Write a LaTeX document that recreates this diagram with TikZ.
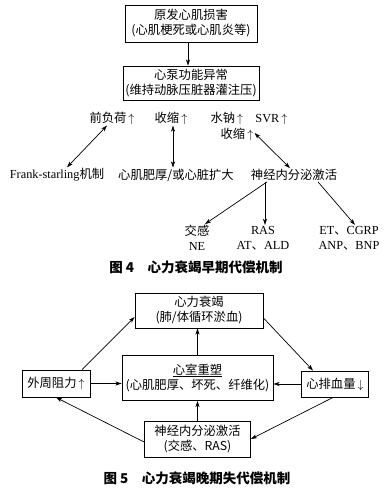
\documentclass[tikz,border=0pt]{standalone}
\usepackage{fontspec}
\setmainfont{Noto Sans CJK SC}
\newfontfamily\lat{Liberation Serif}
\usetikzlibrary{positioning,arrows.meta,calc}

\begin{document}
\begin{tikzpicture}[
x=1pt, y=-1pt,
box/.style={draw, line width=0.9pt, align=center, inner sep=1pt, font=\fontsize{12.3}{15}\selectfont},
lbl/.style={align=center, inner sep=1pt, font=\fontsize{12.3}{15}\selectfont},
figcap/.style={font=\fontsize{13.5}{15}\selectfont\bfseries},
arr/.style={-{Stealth[length=6pt,width=4pt,inset=1.5pt]}, line width=0.7pt},
dbl/.style={{Stealth[length=6pt,width=4pt,inset=1.5pt]}-{Stealth[length=6pt,width=4pt,inset=1.5pt]}, line width=0.7pt}
]
\useasboundingbox (0,0) rectangle (385,493);

% early compensation
\node[box, minimum width=132pt, minimum height=37pt] (injury) at (191,23.5) {原发心肌损害\\(心肌梗死或心肌炎等)};
\node[box, minimum width=136pt, minimum height=34pt] (pump) at (191,83) {心泵功能异常\\(维持动脉压脏器灌注压)};

\node[lbl] (preload) at (112,118) {前负荷\,$\uparrow$};
\node[lbl] (contract) at (171,118) {收缩\,$\uparrow$};
\node[lbl] (sodium) at (249,118) {水钠\,$\uparrow$\quad{\lat SVR}\,$\uparrow$};
\node[lbl] (contract2) at (237,134) {收缩\,$\uparrow$};

\node[lbl] (frank) at (57,175) {{\lat Frank-starling}机制};
\node[lbl] (hyper) at (176,175) {心肌肥厚/或心脏扩大};
\node[lbl] (neuro) at (294,175) {神经内分泌激活};

\node[lbl] (symp) at (197,238) {交感\\{\lat NE}};
\node[lbl] (ras) at (263,238) {{\lat RAS}\\{\lat AT}、{\lat ALD}};
\node[lbl] (pept) at (349,238) {{\lat ET}、{\lat CGRP}\\{\lat ANP}、{\lat BNP}};

\node[figcap] (cap4) at (196,267) {图 4\quad 心力衰竭早期代偿机制};

\draw[arr] ([xshift=-3pt]injury.south) -- ([xshift=-3pt]injury.south |- pump.north);
\draw[dbl] ([xshift=-5pt]preload.south) -- ([xshift=10pt]frank.north);
\draw[dbl] ([xshift=2pt]contract.south) -- ([xshift=2pt]contract.south |- hyper.north);
\draw[dbl] ([yshift=1pt]contract2.east) -- ([xshift=-4pt]neuro.north);
\draw[arr] ([xshift=-27pt]neuro.south) -- ([xshift=8pt]symp.north);
\draw[arr] ([xshift=2pt]ras.north |- neuro.south) -- ([xshift=2pt]ras.north);
\draw[arr] ([xshift=24pt]neuro.south) -- ([xshift=6pt]pept.north);

% late decompensation
\node[box, minimum width=128pt, minimum height=35pt] (hf) at (199,310.5) {心力衰竭\\(肺/体循环淤血)};
\node[box, minimum width=151pt, minimum height=45pt] (remodel) at (197.5,378) {\underline{心室重塑}\\(心肌肥厚、坏死、纤维化)};
\node[box, minimum width=68pt, minimum height=27pt] (resist) at (56,383.5) {外周阻力\,$\uparrow$};
\node[box, minimum width=67pt, minimum height=26pt] (cardout) at (335,384) {心排血量\,$\downarrow$};
\node[box, minimum width=106pt, minimum height=36pt] (neurob) at (197.5,439) {神经内分泌激活\\(交感、RAS)};

\node[figcap] (cap5) at (197,478) {图 5\quad 心力衰竭晚期失代偿机制};

\draw[arr] ([xshift=26pt]resist.north) -- ([yshift=-6.5pt]hf.west);
\draw[arr] ([yshift=-7.5pt]hf.east) -- ([xshift=-22pt]cardout.north);
\draw[arr] (remodel.north) -- (remodel.north |- hf.south);
\draw[arr] (resist.east) -- (resist.east -| remodel.west);
\draw[arr] (cardout.west) -- (cardout.west -| remodel.east);
\draw[arr] (neurob.north) -- (neurob.north |- remodel.south);
\draw[arr] ([xshift=-2pt]cardout.south) -- (neurob.east);
\draw[arr] ([yshift=-3pt]neurob.west) -- (resist.south);
\end{tikzpicture}
\end{document}
